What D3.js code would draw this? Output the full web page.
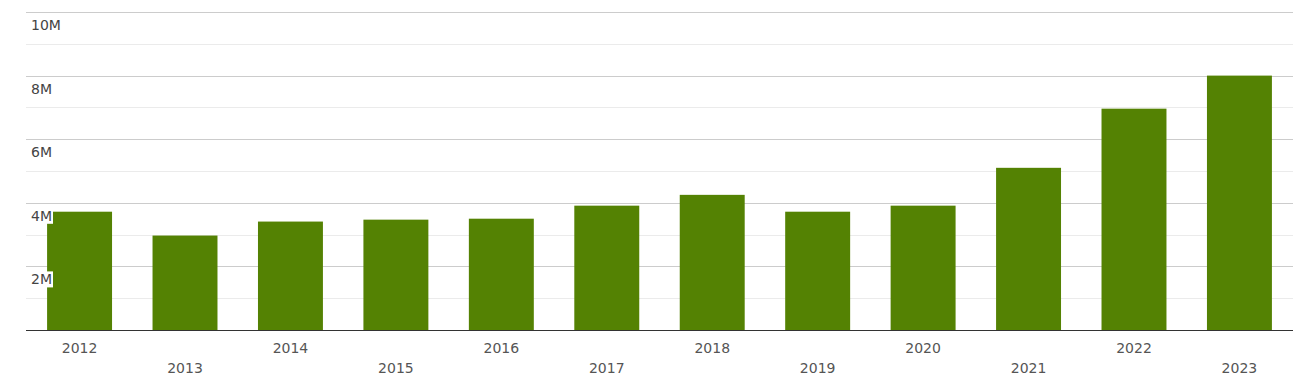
<!DOCTYPE html>
<html>
<head>
<meta charset="utf-8">
<script src="https://cdn.jsdelivr.net/npm/d3@7"></script>
<style>
  body { margin: 0; background: #fff; }
  text { font-family: "DejaVu Sans", sans-serif; }
</style>
</head>
<body>
<div id="chart"></div>
<script>
// Data
var years = ["2012", "2013", "2014", "2015", "2016", "2017", "2018", "2019", "2020", "2021", "2022", "2023"];
var values = [3720000, 2970000, 3410000, 3470000, 3500000, 3910000, 4250000, 3720000, 3910000, 5100000, 6960000, 8000000];
var majorTicks = [0, 2000000, 4000000, 6000000, 8000000, 10000000];
var minorTicks = [1000000, 3000000, 5000000, 7000000, 9000000];
var tickLabels = ["", "2M", "4M", "6M", "8M", "10M"];

var svgWidth = 1293;
var svgHeight = 384;

var margin = { top: 12, right: 0, bottom: 54, left: 26 };
var width = svgWidth - margin.left - margin.right;
var height = svgHeight - margin.top - margin.bottom;

var svg = d3.select("#chart")
  .append("svg")
  .attr("width", svgWidth)
  .attr("height", svgHeight);

var chartGroup = svg.append("g")
  .attr("transform", `translate(${margin.left}, ${margin.top})`);

var xScale = d3.scaleBand()
  .domain(years)
  .range([0, width])
  .paddingInner(0.384)
  .paddingOuter(0.2);

var yScale = d3.scaleLinear()
  .domain([0, 10000000])
  .range([height, 0]);

// minor gridlines
chartGroup.selectAll(".minor")
  .data(minorTicks)
  .enter()
  .append("line")
  .attr("x1", 0)
  .attr("x2", width)
  .attr("y1", d => Math.round(yScale(d)) + 0.5)
  .attr("y2", d => Math.round(yScale(d)) + 0.5)
  .attr("stroke", "#ebebeb")
  .attr("stroke-width", 1);

// major gridlines
chartGroup.selectAll(".major")
  .data(majorTicks.slice(1))
  .enter()
  .append("line")
  .attr("x1", 0)
  .attr("x2", width)
  .attr("y1", d => Math.round(yScale(d)) + 0.5)
  .attr("y2", d => Math.round(yScale(d)) + 0.5)
  .attr("stroke", "#cccccc")
  .attr("stroke-width", 1);

// bars
chartGroup.selectAll("rect.bar")
  .data(values)
  .enter()
  .append("rect")
  .attr("class", "bar")
  .attr("x", (d, i) => xScale(years[i]))
  .attr("y", d => yScale(d))
  .attr("width", xScale.bandwidth())
  .attr("height", d => height - yScale(d))
  .attr("fill", "#548203");

// baseline
chartGroup.append("line")
  .attr("x1", 0)
  .attr("x2", width)
  .attr("y1", Math.round(yScale(0)) + 0.5)
  .attr("y2", Math.round(yScale(0)) + 0.5)
  .attr("stroke", "#333")
  .attr("stroke-width", 1);

// y labels with white background
majorTicks.forEach(function(t, i) {
  if (!tickLabels[i]) return;
  var g = chartGroup.append("g");
  var txt = g.append("text")
    .attr("x", 5)
    .attr("y", yScale(t) + 18)
    .attr("fill", "#444")
    .style("font-size", "14px")
    .text(tickLabels[i]);
  var bb = txt.node().getBBox();
  g.insert("rect", "text")
    .attr("x", bb.x - 1)
    .attr("y", bb.y)
    .attr("width", bb.width + 2)
    .attr("height", bb.height)
    .attr("fill", "#fff");
});

// x labels, staggered
var xAxis = d3.axisBottom(xScale).tickSize(0).tickPadding(0);
var xg = chartGroup.append("g")
  .attr("transform", `translate(0, ${height})`)
  .call(xAxis);
xg.select(".domain").remove();
xg.selectAll("text")
  .attr("fill", "#555")
  .attr("dy", null)
  .attr("y", (d, i) => i % 2 === 0 ? 23 : 43)
  .style("font-size", "14px")
  .style("font-family", "DejaVu Sans, sans-serif");
</script>
</body>
</html>
